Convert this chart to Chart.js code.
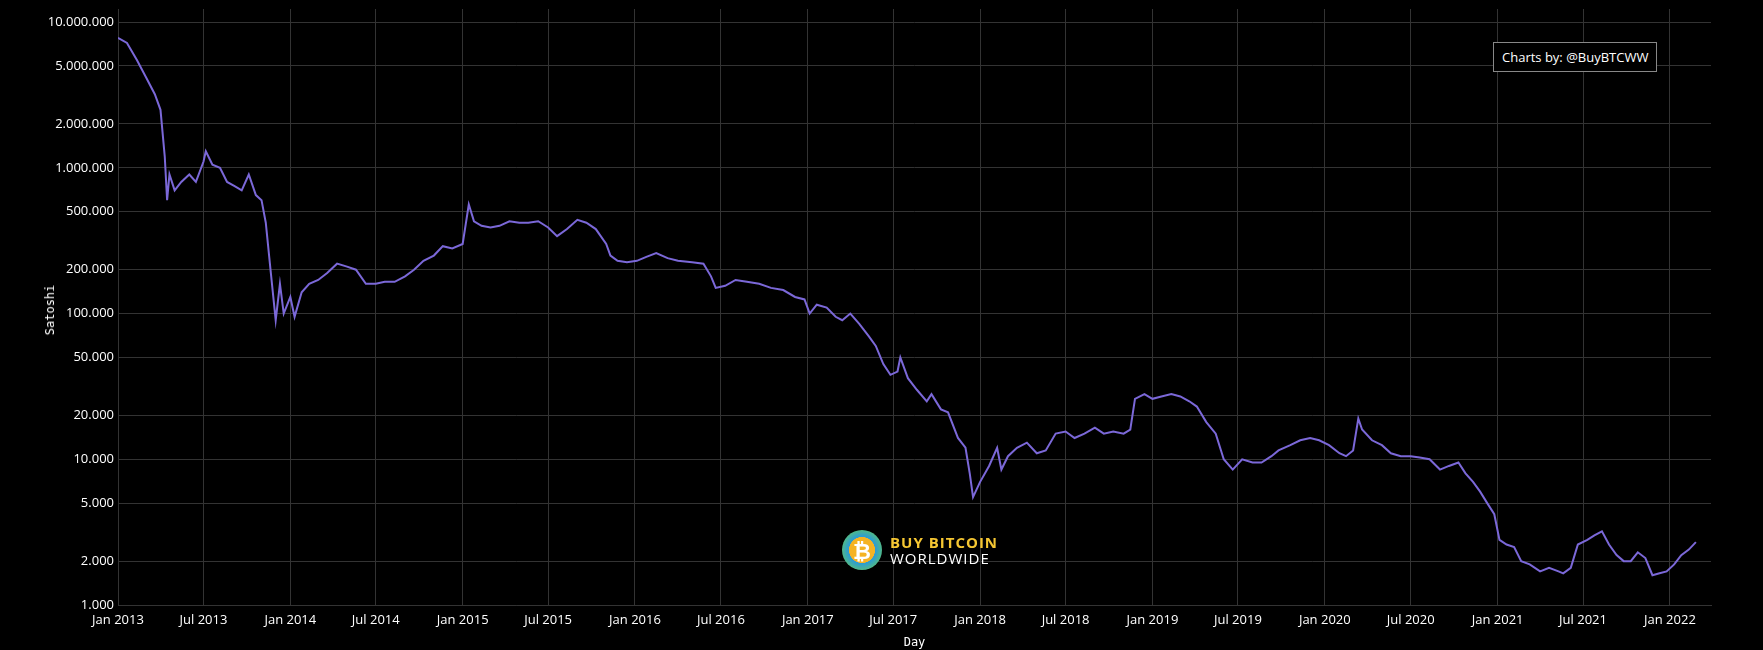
<!DOCTYPE html>
<html><head><meta charset="utf-8">
<script src="https://cdn.jsdelivr.net/npm/chart.js@4"></script>
<style>
body{margin:0;background:#000;}
#wrap{position:relative;width:1763px;height:650px;}
#credit{position:absolute;left:1493px;top:42px;border:1px solid #888;color:#fff;font:13px "Open Sans",sans-serif;padding:5px 8px;background:#000;}
#logo{position:absolute;left:842px;top:530px;display:flex;align-items:center;font-family:"Open Sans",sans-serif;}
#coin{width:40px;height:40px;border-radius:50%;background:radial-gradient(circle,#f5b323 45%,#2a9bd6 47%,#5fc46a 80%);display:flex;align-items:center;justify-content:center;color:#fff;font-weight:bold;font-size:22px;margin-right:8px;}
#ytitle{position:absolute;left:50px;top:310px;transform:translate(-50%,-50%) rotate(-90deg);color:#fff;font:12px "DejaVu Sans Mono",monospace;}
</style></head><body>
<div id="wrap"><canvas id="c" width="1763" height="650"></canvas>
<div id="credit">Charts by: @BuyBTCWW</div>
<div id="ytitle">Satoshi</div>
<div id="logo"><div id="coin">₿</div><div><div style="color:#f5c632;font-weight:bold;font-size:15px;letter-spacing:1px;line-height:16px">BUY BITCOIN</div><div style="color:#fff;font-size:15px;letter-spacing:1px;line-height:16px">WORLDWIDE</div></div></div>
</div>
<script>
const dates=["2013-01-01","2013-01-20","2013-02-10","2013-03-01","2013-03-20","2013-04-01","2013-04-10","2013-04-15","2013-04-20","2013-05-01","2013-05-15","2013-06-01","2013-06-15","2013-07-01","2013-07-06","2013-07-20","2013-08-05","2013-08-20","2013-09-05","2013-09-20","2013-10-05","2013-10-20","2013-11-01","2013-11-10","2013-11-20","2013-12-01","2013-12-10","2013-12-18","2014-01-01","2014-01-10","2014-01-25","2014-02-10","2014-03-01","2014-03-20","2014-04-10","2014-05-01","2014-05-20","2014-06-10","2014-07-01","2014-07-20","2014-08-10","2014-09-01","2014-09-20","2014-10-10","2014-11-01","2014-11-20","2014-12-10","2015-01-01","2015-01-14","2015-01-25","2015-02-10","2015-03-01","2015-03-20","2015-04-10","2015-05-01","2015-05-20","2015-06-10","2015-07-01","2015-07-20","2015-08-10","2015-09-01","2015-09-20","2015-10-10","2015-11-01","2015-11-10","2015-11-25","2015-12-15","2016-01-05","2016-01-25","2016-02-15","2016-03-10","2016-04-01","2016-05-01","2016-05-25","2016-06-10","2016-06-20","2016-07-10","2016-08-01","2016-08-25","2016-09-20","2016-10-15","2016-11-10","2016-12-05","2016-12-25","2017-01-05","2017-01-20","2017-02-10","2017-03-01","2017-03-15","2017-04-01","2017-04-20","2017-05-10","2017-05-25","2017-06-10","2017-06-25","2017-07-10","2017-07-16","2017-08-01","2017-08-20","2017-09-10","2017-09-20","2017-10-10","2017-10-25","2017-11-15","2017-12-01","2017-12-10","2017-12-17","2018-01-01","2018-01-20","2018-02-06","2018-02-15","2018-03-01","2018-03-20","2018-04-10","2018-05-01","2018-05-20","2018-06-10","2018-07-01","2018-07-20","2018-08-10","2018-09-01","2018-09-20","2018-10-10","2018-11-01","2018-11-15","2018-11-25","2018-12-15","2019-01-01","2019-01-20","2019-02-10","2019-03-01","2019-03-20","2019-04-05","2019-04-25","2019-05-15","2019-06-01","2019-06-20","2019-07-10","2019-08-01","2019-08-20","2019-09-10","2019-09-25","2019-10-20","2019-11-10","2019-12-01","2019-12-20","2020-01-10","2020-02-01","2020-02-15","2020-03-01","2020-03-12","2020-03-20","2020-04-10","2020-05-01","2020-05-20","2020-06-10","2020-07-01","2020-07-20","2020-08-10","2020-09-01","2020-09-20","2020-10-10","2020-10-25","2020-11-10","2020-11-25","2020-12-10","2020-12-25","2021-01-05","2021-01-20","2021-02-05","2021-02-20","2021-03-10","2021-04-01","2021-04-20","2021-05-10","2021-05-20","2021-06-05","2021-06-20","2021-07-10","2021-07-25","2021-08-10","2021-08-25","2021-09-10","2021-09-25","2021-10-10","2021-10-25","2021-11-10","2021-11-25","2021-12-10","2021-12-25","2022-01-10","2022-01-25","2022-02-10","2022-02-25","2022-03-05"];
const satoshi=[7800000,7200000,5500000,4200000,3200000,2500000,1200000,600000,900000,700000,800000,900000,800000,1100000,1300000,1050000,1000000,800000,750000,700000,900000,650000,600000,420000,200000,90000,160000,100000,130000,95000,140000,160000,170000,190000,220000,210000,200000,160000,160000,165000,165000,180000,200000,230000,250000,290000,280000,300000,560000,430000,400000,390000,400000,430000,420000,420000,430000,390000,340000,380000,440000,420000,380000,300000,250000,230000,225000,230000,245000,260000,240000,230000,225000,220000,180000,150000,155000,170000,165000,160000,150000,145000,130000,125000,100000,115000,110000,95000,90000,100000,85000,70000,60000,45000,38000,40000,50000,36000,30000,25000,28000,22000,21000,14000,12000,8000,5500,7000,9000,12000,8500,10500,12000,13000,11000,11500,15000,15500,14000,15000,16500,15000,15500,15000,16000,26000,28000,26000,27000,28000,27000,25000,23000,18000,15000,10000,8500,10000,9500,9500,10500,11500,12500,13500,14000,13500,12500,11000,10500,11500,19000,16000,13500,12500,11000,10500,10500,10300,10000,8500,9000,9500,8000,7000,6000,5000,4200,2800,2600,2500,2000,1900,1700,1800,1700,1650,1800,2600,2800,3000,3200,2600,2200,2000,2000,2300,2100,1600,1650,1700,1900,2200,2400,2700];
const xTickLabels=["Jan 2013","Jul 2013","Jan 2014","Jul 2014","Jan 2015","Jul 2015","Jan 2016","Jul 2016","Jan 2017","Jul 2017","Jan 2018","Jul 2018","Jan 2019","Jul 2019","Jan 2020","Jul 2020","Jan 2021","Jul 2021","Jan 2022"];
const yTicks=[1000,2000,5000,10000,20000,50000,100000,200000,500000,1000000,2000000,5000000,10000000];

const base=Date.UTC(2013,0,1);
const dayOf=s=>{const[y,m,d]=s.split("-").map(Number);return (Date.UTC(y,m-1,d)-base)/864e5;};
const xTickVals=xTickLabels.map(l=>{const[mo,y]=l.split(" ");return dayOf(y+"-"+(mo==="Jan"?"01":"07")+"-01");});
const pts=dates.map((d,i)=>({x:dayOf(d),y:satoshi[i]}));
const fmt=v=>v.toString().replace(/\B(?=(\d{3})+(?!\d))/g,".");
const tickFont={family:"'Open Sans', sans-serif",size:13};
const yLabels={id:"yLabels",afterDraw(ch){const s=ch.scales.y,c=ch.ctx;c.save();c.fillStyle="#fff";c.font="13px 'Open Sans', sans-serif";c.textAlign="right";c.textBaseline="middle";
 yTicks.forEach(v=>c.fillText(fmt(v),114,s.getPixelForValue(v)));c.restore();}};
new Chart(document.getElementById("c"),{type:"line",
data:{datasets:[{data:pts,borderColor:"#7b68d8",borderWidth:2,pointRadius:0,tension:0}]},
options:{responsive:false,animation:false,
layout:{padding:{left:0,right:52,top:9,bottom:0}},
plugins:{legend:{display:false},tooltip:{enabled:false}},
scales:{
x:{type:"linear",min:0,max:3374,
afterBuildTicks:s=>{s.ticks=xTickVals.map(v=>({value:v}));},
afterFit:s=>{s.height=45;},
ticks:{color:"#fff",font:tickFont,maxRotation:0,autoSkip:false,padding:7,callback:(v)=>{const i=xTickVals.indexOf(v);return i>=0?xTickLabels[i]:"";}},
grid:{color:"#333",drawTicks:false},border:{color:"#333"},
title:{display:true,text:"Day",color:"#fff",font:{family:"'DejaVu Sans Mono', monospace",size:12},padding:{top:0,bottom:0}}},
y:{type:"logarithmic",min:1000,max:12300000,
afterBuildTicks:s=>{s.ticks=yTicks.map(v=>({value:v}));},
afterFit:s=>{s.width=118;},
ticks:{display:false},
grid:{color:"#333",drawTicks:false},border:{display:false}}
}},plugins:[yLabels]});
</script></body></html>
